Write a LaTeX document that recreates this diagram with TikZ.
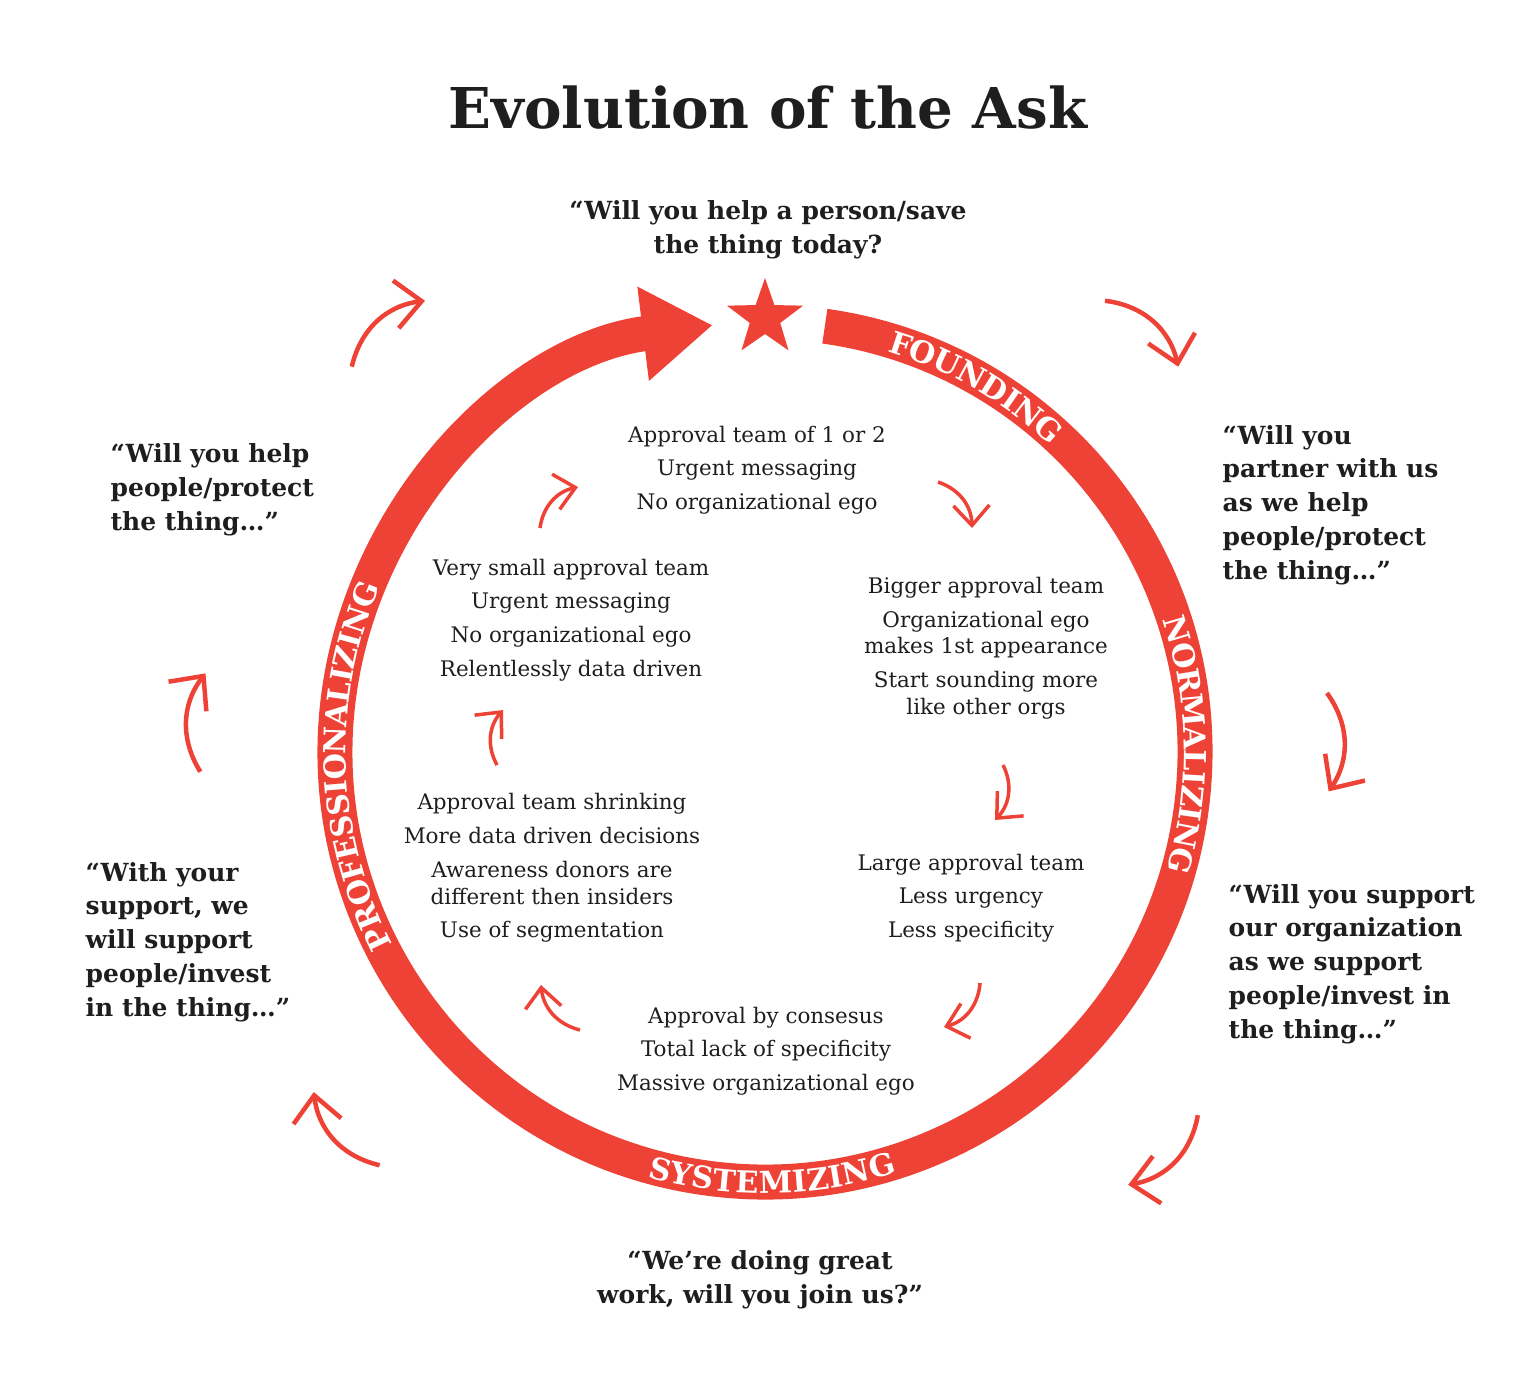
\documentclass[tikz,border=0pt]{standalone}
\usepackage{fontspec}
\setmainfont{DejaVu Serif}
\usepackage{tikz}
\usetikzlibrary{
    arrows.meta,
    calc,
    positioning,
    shapes.geometric,
    decorations.text
}
\definecolor{askred}{RGB}{238,66,54}
\definecolor{askink}{RGB}{30,30,30}

\begin{document}
\begin{tikzpicture}[
ring/.style={draw=askred,line width=0.35cm,-{Triangle[length=0.7cm,width=0.9cm]}},
ring label/.style={decorate,decoration={text along path,text align=center,raise=-0.11cm,
  text={|\color{white}\bfseries\fontsize{8.6}{10}\selectfont|#1}}},
outer arrow/.style={draw=askred,line width=0.045cm,-{Straight Barb[length=0.26cm,width=0.48cm]},bend left=35},
inner arrow/.style={draw=askred,line width=0.035cm,-{Straight Barb[length=0.2cm,width=0.36cm]},bend left=35},
quote node/.style={text=askink,font=\bfseries\fontsize{7.1}{9.6}\selectfont,align=left,inner sep=0pt},
step node/.style={text=askink,font=\fontsize{6.1}{9.6}\selectfont,align=center,inner sep=0pt}]

\useasboundingbox (0,0) rectangle (15.36,-13.79);

%Title
\node[text=askink,font=\bfseries\fontsize{16}{18}\selectfont] (title) at (7.68,-1.08) {Evolution of the Ask};

%Cycle
\coordinate (c) at (7.65,-7.52);
\draw[ring] ($(c)+(82:4.3)$) arc[start angle=82,end angle=-263,radius=4.3];
\node[star,star points=5,star point ratio=2.5,fill=askred,minimum size=0.8cm,inner sep=0pt] (star) at (7.65,-3.18) {};

%Stage names
\path[ring label=FOUNDING] ($(c)+(77:4.3)$) arc[start angle=77,end angle=43,radius=4.3];
\path[ring label=NORMALIZING] ($(c)+(22:4.3)$) arc[start angle=22,end angle=-20,radius=4.3];
\path[ring label=SYSTEMIZING] ($(c)+(250:4.3)$) arc[start angle=250,end angle=292,radius=4.3];
\path[ring label=PROFESSIONALIZING] ($(c)+(211:4.3)$) arc[start angle=211,end angle=153,radius=4.3];

%Asks
\node[quote node,align=center] (q1) at (7.68,-2.30) {“Will you help a person/save\\the thing today?};
\node[quote node,anchor=west] (q2) at (12.22,-5.05) {“Will you\\partner with us\\as we help\\people/protect\\the thing…”};
\node[quote node,anchor=west] (q3) at (12.28,-9.64) {“Will you support\\our organization\\as we support\\people/invest in\\the thing…”};
\node[quote node,align=center] (q4) at (7.60,-12.80) {“We’re doing great\\work, will you join us?”};
\node[quote node,anchor=west] (q5) at (0.85,-9.42) {“With your\\support, we\\will support\\people/invest\\in the thing…”};
\node[quote node,anchor=west] (q6) at (1.10,-4.90) {“Will you help\\people/protect\\the thing…”};

%Stages
\node[step node] (s1) at (7.57,-4.70) {Approval team of 1 or 2\\Urgent messaging\\No organizational ego};
\node[step node] (s2) at (9.86,-6.48) {Bigger approval team\\Organizational ego\\[-2pt]makes 1st appearance\\Start sounding more\\[-2pt]like other orgs};
\node[step node] (s3) at (9.71,-8.98) {Large approval team\\Less urgency\\Less specificity};
\node[step node] (s4) at (7.66,-10.51) {Approval by consesus\\Total lack of specificity\\Massive organizational ego};
\node[step node] (s5) at (5.52,-8.68) {Approval team shrinking\\More data driven decisions\\Awareness donors are\\[-2pt]different then insiders\\Use of segmentation};
\node[step node] (s6) at (5.71,-6.20) {Very small approval team\\Urgent messaging\\No organizational ego\\Relentlessly data driven};

%Outer arrows
\foreach \a in {132,48,1,-45,-138,177}
  \draw[outer arrow] ($(c)+(\a+5:5.65)$) to ($(c)+(\a-5:5.65)$);

%Inner arrows
\coordinate (i1a) at (5.40,-5.28); \coordinate (i1b) at (5.78,-4.87);
\coordinate (i2a) at (9.38,-4.82); \coordinate (i2b) at (9.72,-5.28);
\coordinate (i3a) at (10.03,-7.65); \coordinate (i3b) at (9.95,-8.20);
\coordinate (i4a) at (9.80,-9.83); \coordinate (i4b) at (9.44,-10.27);
\coordinate (i5a) at (5.80,-10.30); \coordinate (i5b) at (5.41,-9.85);
\coordinate (i6a) at (4.97,-7.65); \coordinate (i6b) at (5.03,-7.10);
\foreach \i in {1,...,6}
  \draw[inner arrow] (i\i a) to (i\i b);
\end{tikzpicture}
\end{document}
